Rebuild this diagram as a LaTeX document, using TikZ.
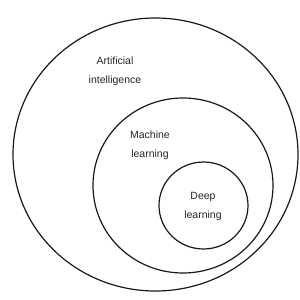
\documentclass[tikz,border=0pt]{standalone}
\usepackage{fontspec}
\setmainfont{Liberation Sans}
\usepackage{tikz}
\usetikzlibrary{positioning}
\tikzset{
  ring/.style={line width=1.2pt, draw=black!90},
  lbl/.style={align=center, font=\fontsize{10.5}{19}\selectfont, text=black!85},
}

\begin{document}
\begin{tikzpicture}[x=1pt, y=-1pt]
    \useasboundingbox (0,0) rectangle (300,300);

    %%% Outer set %%%
    \coordinate (AI) at (155.5,154.5);
    \draw[ring] (AI) ellipse (142.5 and 136.5);
    \node[lbl] (ailabel) at (115,71) {Artificial\\intelligence};

    %%% Middle set %%%
    \coordinate (ML) at (183,185.5);
    \draw[ring] (ML) ellipse (90 and 87.5);
    \node[lbl] (mllabel) at (150,145) {Machine\\learning};

    %%% Inner set %%%
    \coordinate (DL) at (203.5,205.5);
    \draw[ring] (DL) ellipse (44.5 and 43.5);
    \node[lbl] (dllabel) at (203,206) {Deep\\learning};

\end{tikzpicture}
\end{document}
